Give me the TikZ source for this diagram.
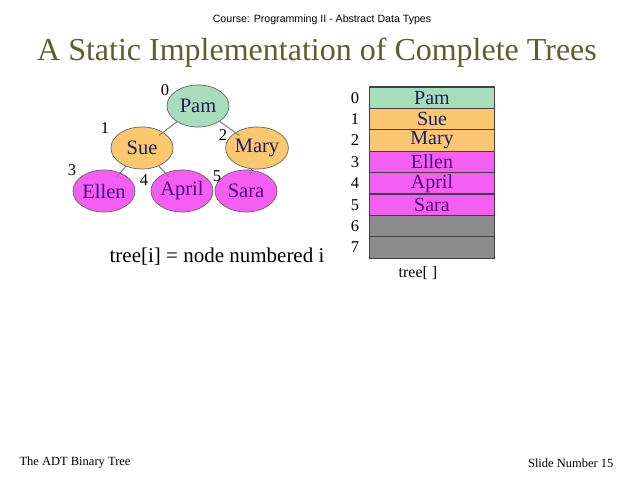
\documentclass[tikz,border=0pt]{standalone}
\usepackage{fontspec}
\setmainfont{Liberation Serif}
\setsansfont{Liberation Sans}
\usetikzlibrary{shapes.geometric}
\definecolor{pamgreen}{HTML}{A8DDBB}
\definecolor{sueorange}{HTML}{F9C870}
\definecolor{ellenpink}{HTML}{F45EF2}
\definecolor{emptyslot}{HTML}{8C8C8C}
\definecolor{titleolive}{HTML}{5E5E32}
\definecolor{nametext}{HTML}{1E1E5E}
\definecolor{leaftext}{HTML}{4C0C7C}
\begin{document}
\begin{tikzpicture}[x=1pt,y=-1pt,
    tnode/.style={ellipse,draw=black!60,line width=0.7pt,inner sep=0pt,minimum width=62pt,minimum height=42pt,
      font=\fontsize{20.5}{20.5}\selectfont},
    num/.style={font=\fontsize{16.5}{16.5}\selectfont},
    cell/.style={draw=black!75,line width=1.1pt,inner sep=0pt,minimum width=125pt,minimum height=21.4pt,
      font=\fontsize{20}{20}\selectfont},
    edge/.style={draw=black!50,line width=1pt,shorten >=-5pt}]
  \fill[white] (0,0) rectangle (638,479);
  % heading
  \node (course) at (322,20) {\sffamily\fontsize{10.6}{10.6}\selectfont Course: Programming II - Abstract Data Types};
  \node[text=titleolive] (title) at (317,53) {\fontsize{32}{32}\selectfont A Static Implementation of Complete Trees};
  % the tree
  \draw
    (198,106) node[tnode,fill=pamgreen,text=nametext] (pam){Pam}
    (142,148) node[tnode,fill=sueorange,text=nametext] (sue){Sue}
    (257,148) node[tnode,fill=sueorange,text=nametext] (mary){Mary}
    (104,191) node[tnode,fill=ellenpink,text=leaftext] (ellen){Ellen}
    (182,191) node[tnode,fill=ellenpink,text=leaftext] (april){April}
    (246,191) node[tnode,fill=ellenpink,text=leaftext] (sara){Sara};
  \begin{scope}[-]
    \draw[edge] (pam) to (sue);
    \draw[edge] (pam) to (mary);
    \draw[edge] (sue) to (ellen);
    \draw[edge] (sue) to (april);
    \draw[edge] (mary) to (sara);
  \end{scope}
  \node[num] (n0) at (165,90) {0};
  \node[num] (n1) at (105,128) {1};
  \node[num] (n2) at (223,135) {2};
  \node[num] (n3) at (72,170) {3};
  \node[num] (n4) at (144,180) {4};
  \node[num] (n5) at (217,176) {5};
  \node (rule) at (217,257) {\fontsize{21}{21}\selectfont tree[i] = node numbered i};
  % the array
  \node[cell,fill=pamgreen,text=nametext] (c0) at (432,97.7) {Pam};
  \node[cell,fill=sueorange,text=nametext] (c1) at (432,119.1) {Sue};
  \node[cell,fill=sueorange,text=nametext] (c2) at (432,140.5) {Mary};
  \node[cell,fill=ellenpink,text=leaftext] (c3) at (432,161.9) {Ellen};
  \node[cell,fill=ellenpink,text=leaftext] (c4) at (432,183.3) {April};
  \node[cell,fill=ellenpink,text=leaftext] (c5) at (432,204.7) {Sara};
  \node[cell,fill=emptyslot] (c6) at (432,226.1) {};
  \node[cell,fill=emptyslot] (c7) at (432,247.5) {};
  \node[num] (i0) at (355,97.7) {0};
  \node[num] (i1) at (355,119.1) {1};
  \node[num] (i2) at (355,140.5) {2};
  \node[num] (i3) at (355,161.9) {3};
  \node[num] (i4) at (355,183.3) {4};
  \node[num] (i5) at (355,204.7) {5};
  \node[num] (i6) at (355,226.1) {6};
  \node[num] (i7) at (355,247.5) {7};
  \node (arr) at (418,273) {\fontsize{16}{16}\selectfont tree[ ]};
  % footer
  \node[anchor=west] (foot) at (16,463) {\fontsize{12.5}{12.5}\selectfont The ADT Binary Tree};
  \node[anchor=east] (slide) at (617,463) {\fontsize{12.5}{12.5}\selectfont Slide Number 15};
\end{tikzpicture}
\end{document}
